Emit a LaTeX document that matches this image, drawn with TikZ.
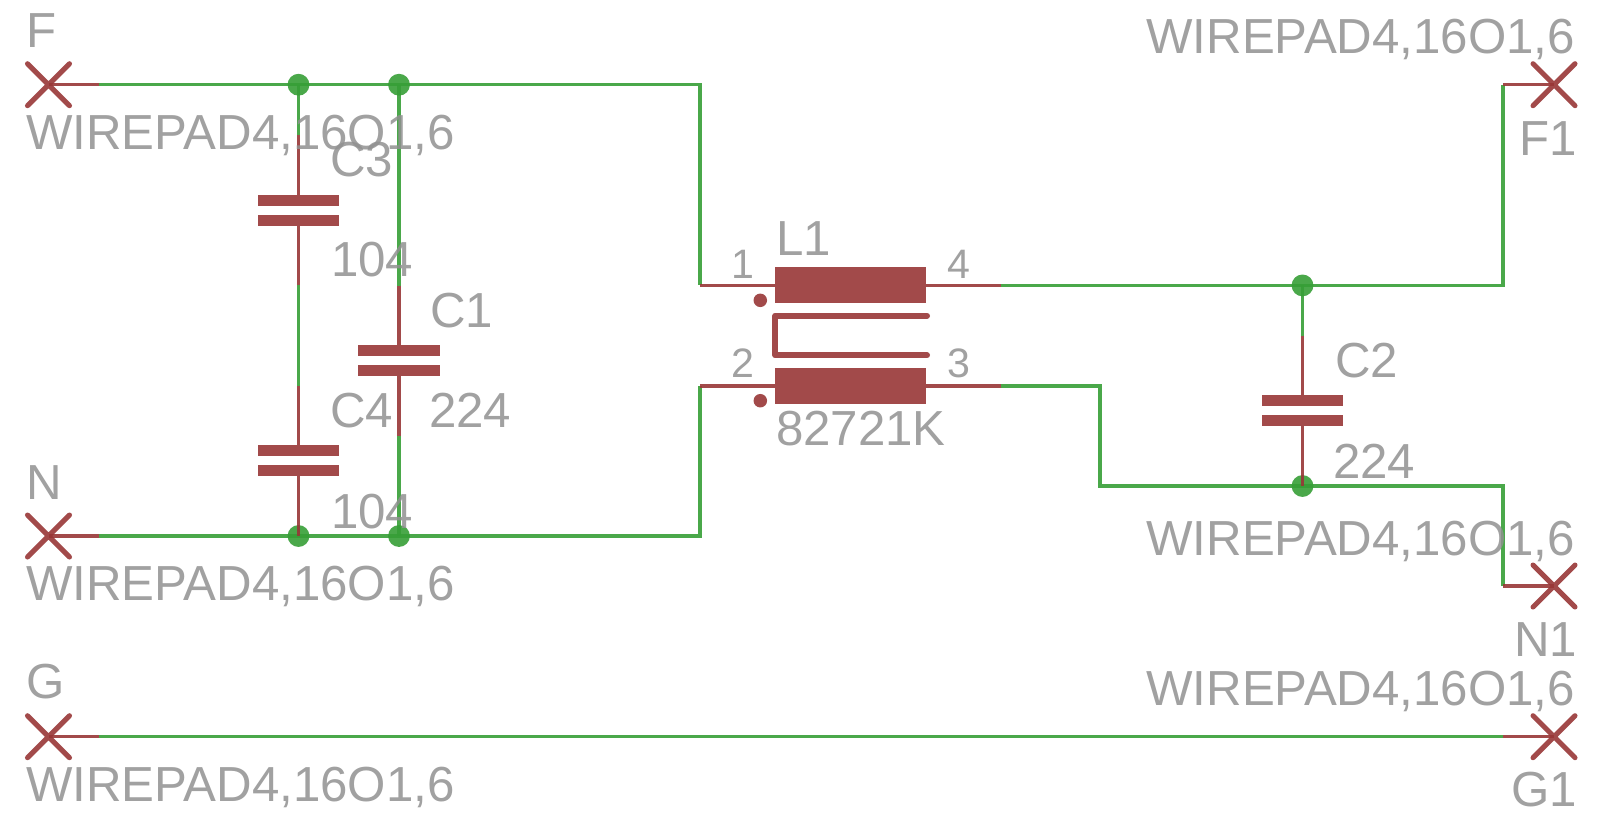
\documentclass[tikz,border=0pt]{standalone}
\usepackage{fontspec}
\setmainfont{Liberation Sans}
\usetikzlibrary{shapes.misc}
\definecolor{netgreen}{RGB}{54,158,54}
\definecolor{symred}{RGB}{152,54,54}
\definecolor{lblgray}{RGB}{144,144,144}
\tikzset{
  wire/.style={draw=netgreen,line width=0.034cm,opacity=.9},
  lead/.style={draw=symred,line width=0.034cm,opacity=.9},
  padx/.style={cross out,draw=symred,line width=0.05cm,line cap=round,minimum size=0.42cm,inner sep=0pt,outer sep=0pt,opacity=.9},
  plate/.style={rectangle,fill=symred,minimum width=0.81cm,minimum height=0.112cm,inner sep=0pt,outer sep=0pt,opacity=.9},
  coil/.style={rectangle,fill=symred,minimum width=1.51cm,minimum height=0.36cm,inner sep=0pt,outer sep=0pt,opacity=.9},
  dotmark/.style={circle,fill=symred,minimum size=0.135cm,inner sep=0pt,outer sep=0pt,opacity=.9},
  junction/.style={circle,fill=netgreen,minimum size=0.218cm,inner sep=0pt,outer sep=0pt,opacity=.9},
  lbl/.style={text=lblgray,anchor=base west,inner sep=0pt,outer sep=0pt,opacity=.85,font=\fontsize{14}{16}\selectfont},
  lblr/.style={lbl,anchor=base east},
  pinnum/.style={lbl,font=\fontsize{11.7}{14}\selectfont},
  pinnumr/.style={pinnum,anchor=base east}
}
\begin{document}
\begin{tikzpicture}[x=0.01cm,y=0.01cm]
\useasboundingbox (0,0) rectangle (1600,-823);
% pads
\node [padx] (F) at (48.5,-84.7) {};
\node [padx] (N) at (48.5,-536) {};
\node [padx] (G) at (48.5,-736.7) {};
\node [padx] (F1) at (1554,-84.7) {};
\node [padx] (N1) at (1554,-586) {};
\node [padx] (G1) at (1554,-736.7) {};
\coordinate (Fw) at (98.8,-84.7);
\coordinate (Nw) at (98.8,-536);
\coordinate (Gw) at (98.8,-736.7);
\coordinate (F1w) at (1503,-84.7);
\coordinate (N1w) at (1503,-586);
\coordinate (G1w) at (1503,-736.7);
% junctions
\node [junction] (J3) at (298.5,-84.7) {};
\node [junction] (J1) at (399,-84.7) {};
\node [junction] (J4) at (298.5,-536) {};
\node [junction] (J1b) at (399,-536) {};
\node [junction] (J2) at (1302.5,-285.4) {};
\node [junction] (J2b) at (1302.5,-486) {};
% capacitors
\node [plate] (C3a) at (298.5,-200.4) {};
\node [plate] (C3b) at (298.5,-220.4) {};
\coordinate (C3t) at (298.5,-135);
\coordinate (C3m) at (298.5,-285.4);
\node [plate] (C4a) at (298.5,-450.6) {};
\node [plate] (C4b) at (298.5,-470.6) {};
\coordinate (C4t) at (298.5,-385.6);
\node [plate] (C1a) at (399,-350.8) {};
\node [plate] (C1b) at (399,-370.8) {};
\coordinate (C1t) at (399,-285.7);
\coordinate (C1m) at (399,-435.7);
\node [plate] (C2a) at (1302.5,-400.8) {};
\node [plate] (C2b) at (1302.5,-420.8) {};
\coordinate (C2t) at (1302.5,-335.7);
% coil
\node [coil] (L1a) at (850.5,-285.4) {};
\node [coil] (L1b) at (850.5,-385.9) {};
\node [dotmark] (Da) at (760.3,-300.3) {};
\node [dotmark] (Db) at (760.3,-400.7) {};
\coordinate (P1) at (700,-285.4);
\coordinate (P2) at (700,-385.9);
\coordinate (P4) at (1000.7,-285.4);
\coordinate (P3) at (1000.7,-385.9);
\coordinate (Ka) at (927,-315.7);
\coordinate (Kb) at (775.3,-315.7);
\coordinate (Kc) at (775.3,-355.3);
\coordinate (Kd) at (927,-355.3);
\coordinate (Ba) at (1100,-385.9);
\coordinate (Bb) at (1100,-486);
\coordinate (Bc) at (1503,-486);
% nets
\draw [wire] (Fw) -| (P1);
\draw [wire] (P2) |- (Nw);
\draw [wire] (Gw) -- (G1w);
\draw [wire] (P4) -| (F1w);
\draw [wire] (P3) -- (Ba) -- (Bb) -- (Bc) -- (N1w);
\draw [wire] (J3.center) -- (C3t);
\draw [wire] (C3m) -- (C4t);
\draw [wire] (J1.center) -- (C1t);
\draw [wire] (C1m) -- (J1b.center);
\draw [wire] (J2.center) -- (C2t);
% leads
\draw [lead] (F.center) -- (Fw);
\draw [lead] (N.center) -- (Nw);
\draw [lead] (G.center) -- (Gw);
\draw [lead] (F1.center) -- (F1w);
\draw [lead] (N1.center) -- (N1w);
\draw [lead] (G1.center) -- (G1w);
\draw [lead] (C3t) -- (C3a);
\draw [lead] (C3b) -- (C3m);
\draw [lead] (C4t) -- (C4a);
\draw [lead] (C4b) -- (J4.center);
\draw [lead] (C1t) -- (C1a);
\draw [lead] (C1b) -- (C1m);
\draw [lead] (C2t) -- (C2a);
\draw [lead] (C2b) -- (J2b.center);
\draw [lead] (P1) -- (L1a);
\draw [lead] (P2) -- (L1b);
\draw [lead] (L1a) -- (P4);
\draw [lead] (L1b) -- (P3);
\draw [lead,line width=0.06cm,line cap=round,line join=round] (Ka) -- (Kb) -- (Kc) -- (Kd);
% labels
\node [lbl] (Fname) at (26.5,-47.3) {F};
\node [lbl] (Nname) at (26.5,-499) {N};
\node [lbl] (Gname) at (26.5,-698.3) {G};
\node [lbl] (Fval) at (26,-149) {WIREPAD4,16O1,6};
\node [lbl] (Nval) at (26,-600.3) {WIREPAD4,16O1,6};
\node [lbl] (Gval) at (26,-801) {WIREPAD4,16O1,6};
\node [lblr] (F1val) at (1575,-53.7) {WIREPAD4,16O1,6};
\node [lblr] (N1val) at (1575,-555.3) {WIREPAD4,16O1,6};
\node [lblr] (G1val) at (1575,-705.7) {WIREPAD4,16O1,6};
\node [lblr] (F1name) at (1577,-155.7) {F1};
\node [lblr] (N1name) at (1577,-656) {N1};
\node [lblr] (G1name) at (1577,-806.7) {G1};
\node [lbl] (C3name) at (330,-176.7) {C3};
\node [lbl] (C3val) at (331,-276.7) {104};
\node [lbl] (C4name) at (330,-427.5) {C4};
\node [lbl] (C4val) at (331,-528.3) {104};
\node [lbl] (C1name) at (430,-327.3) {C1};
\node [lbl] (C1val) at (429,-427.8) {224};
\node [lbl] (C2name) at (1335,-377.7) {C2};
\node [lbl] (C2val) at (1333,-478.3) {224};
\node [lbl] (L1name) at (776.5,-255) {L1};
\node [lbl] (L1val) at (776,-445) {82721K};
\node [pinnumr] (Pn1) at (754,-278.3) {1};
\node [pinnumr] (Pn2) at (754,-377.7) {2};
\node [pinnum] (Pn4) at (947,-278.3) {4};
\node [pinnum] (Pn3) at (947.5,-377.7) {3};
\end{tikzpicture}
\end{document}
